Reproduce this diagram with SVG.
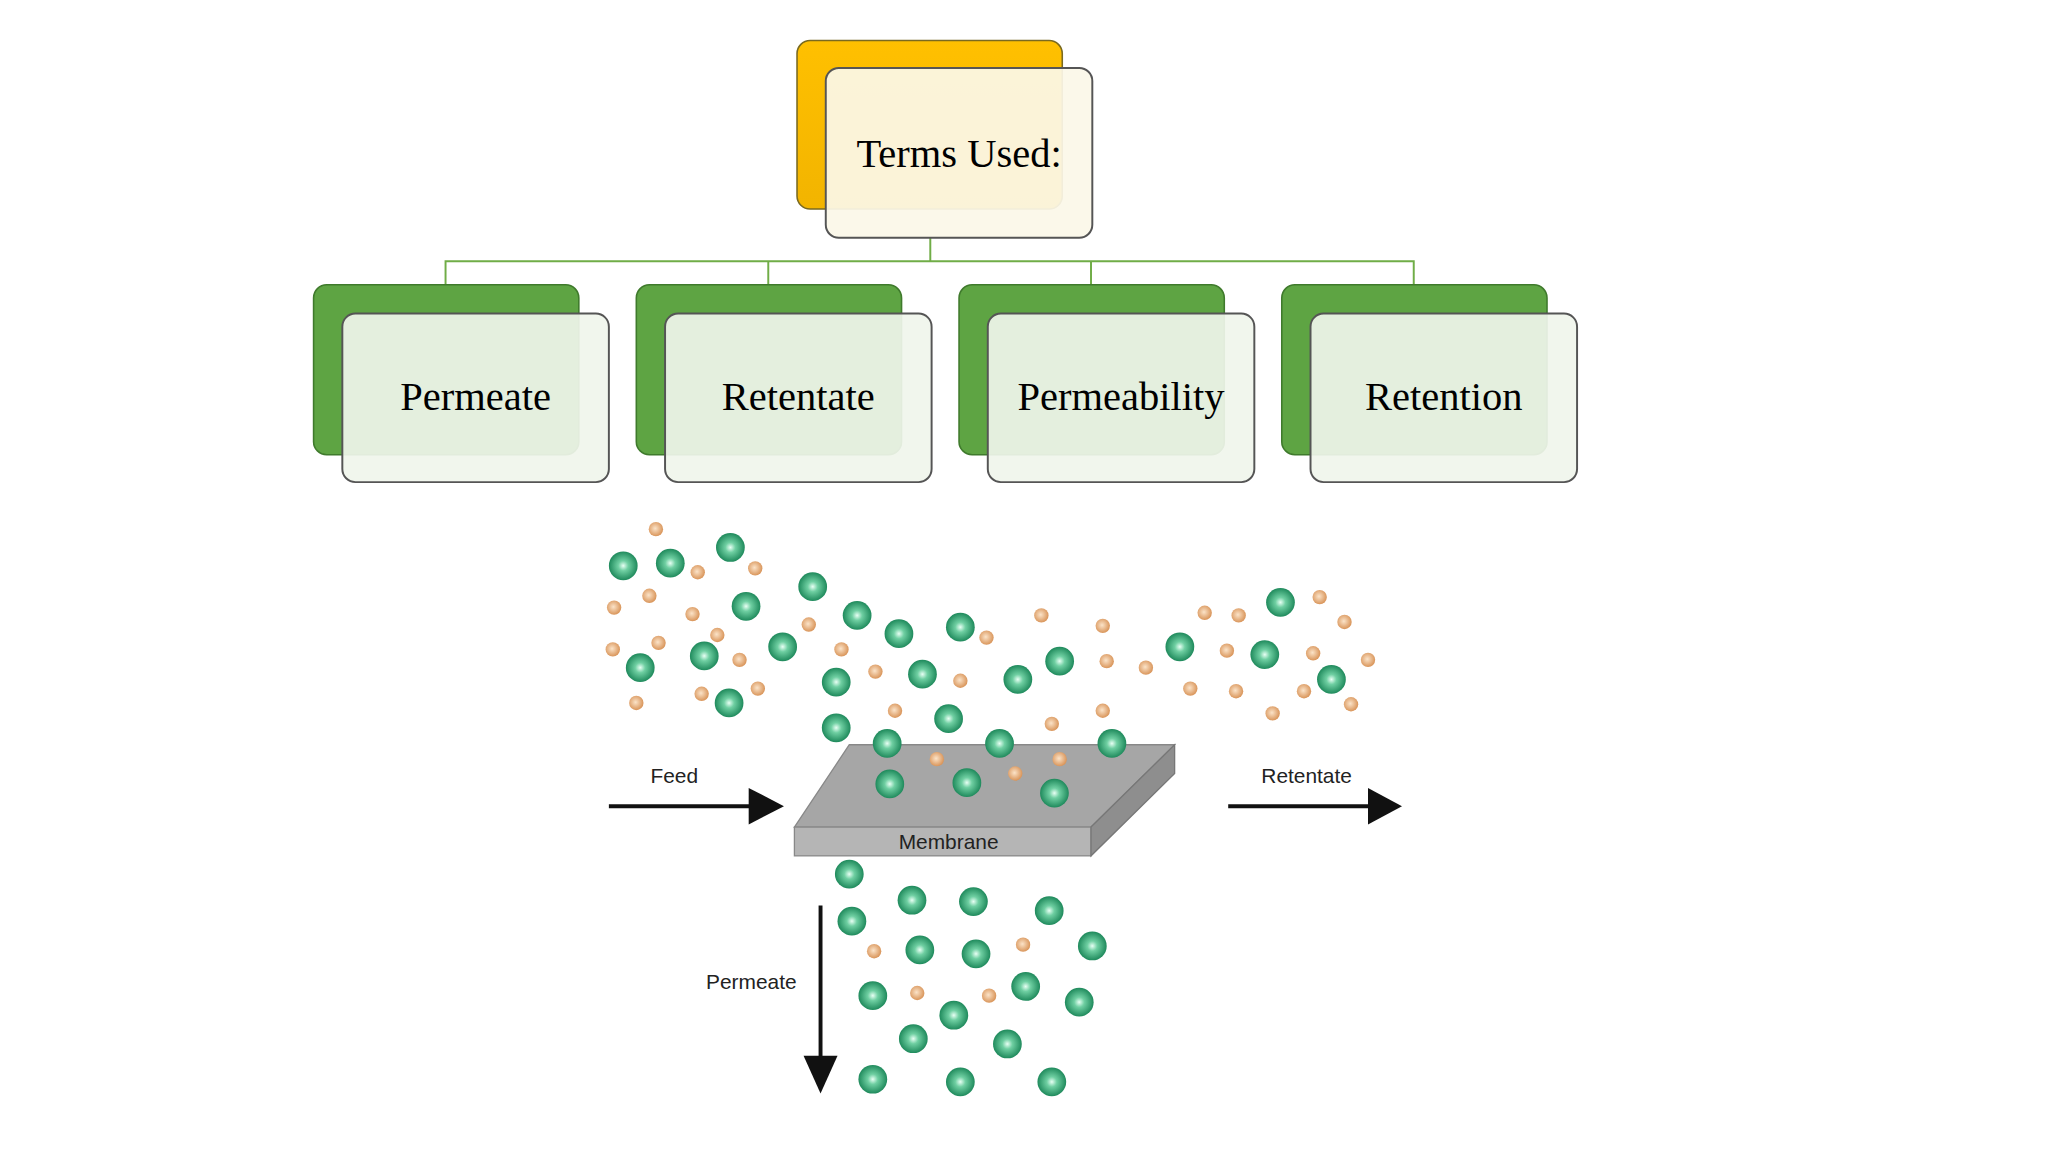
<svg xmlns="http://www.w3.org/2000/svg" width="2048" height="1152" viewBox="0 0 2048 1152">
<defs>
<style>
.t{font-family:"Liberation Serif","Times New Roman",serif;font-size:31px;fill:#000;text-anchor:middle}
.s{font-family:"Liberation Sans",Arial,sans-serif;font-size:16px;fill:#222;text-anchor:middle}
.front{fill:#f0f5ec;fill-opacity:0.92;stroke:#555;stroke-width:1.5}
.gb{fill:#5ea443;stroke:#3f7a2c;stroke-width:1.2}
.conn{fill:none;stroke:#70ad47;stroke-width:1.5}
.ar{stroke:#111;stroke-width:3;fill:none}
</style>
<radialGradient id="gg" cx="0.5" cy="0.5" r="0.5">
<stop offset="0" stop-color="#e8fff4"/><stop offset="0.35" stop-color="#6fcfa2"/><stop offset="1" stop-color="#1f8a5c"/>
</radialGradient>
<radialGradient id="tg" cx="0.45" cy="0.45" r="0.55">
<stop offset="0" stop-color="#fbe3c8"/><stop offset="1" stop-color="#d9955a"/>
</radialGradient>
<linearGradient id="yg" x1="0" y1="0" x2="0" y2="1"><stop offset="0" stop-color="#ffc000"/><stop offset="1" stop-color="#f2b400"/></linearGradient>
</defs>
<g transform="scale(1.3066)">
<g id="connectors">
<path class="conn" d="M712 182V200M341 218V200H1082V218M588 200V218M835 200V218"/>
</g>
<g id="terms">
<rect x="610" y="31" width="203" height="129" rx="10" fill="url(#yg)" stroke="#7a6a20" stroke-width="1.2"/>
<rect x="632" y="52" width="204" height="130" rx="10" fill="#fbf8e8" fill-opacity="0.93" stroke="#555" stroke-width="1.5"/>
<text class="t" x="734" y="128">Terms Used:</text>
</g>
<g id="permeate"><rect class="gb" x="240" y="218" width="203" height="130" rx="10"/><rect class="front" x="262" y="240" width="204" height="129" rx="10"/><text class="t" x="364" y="314">Permeate</text></g>
<g id="retentate"><rect class="gb" x="487" y="218" width="203" height="130" rx="10"/><rect class="front" x="509" y="240" width="204" height="129" rx="10"/><text class="t" x="611" y="314">Retentate</text></g>
<g id="permeability"><rect class="gb" x="734" y="218" width="203" height="130" rx="10"/><rect class="front" x="756" y="240" width="204" height="129" rx="10"/><text class="t" x="858" y="314">Permeability</text></g>
<g id="retention"><rect class="gb" x="981" y="218" width="203" height="130" rx="10"/><rect class="front" x="1003" y="240" width="204" height="129" rx="10"/><text class="t" x="1105" y="314">Retention</text></g>
<g id="membrane">
<polygon points="608,633 650,570 899,570 835,633" fill="#a6a6a6" stroke="#888" stroke-width="1"/>
<rect x="608" y="633" width="227" height="22" fill="#b5b5b5" stroke="#888" stroke-width="1"/>
<polygon points="835,633 899,570 899,592 835,655" fill="#8e8e8e" stroke="#777" stroke-width="1"/>
<text class="s" x="726" y="650">Membrane</text>
</g>
<g id="arrows">
<path class="ar" d="M466 617H576"/><polygon points="573,603 600,617 573,631" fill="#111"/>
<text class="s" x="516" y="599">Feed</text>
<path class="ar" d="M940 617H1050"/><polygon points="1047,603 1073,617 1047,631" fill="#111"/>
<text class="s" x="1000" y="599">Retentate</text>
<path class="ar" d="M628 693V812"/><polygon points="615,808 628,837 641,808" fill="#111"/>
<text class="s" x="575" y="757">Permeate</text>
</g>
<g id="particles" fill="url(#gg)">
<circle cx="477" cy="433" r="11"/><circle cx="513" cy="431" r="11"/><circle cx="559" cy="419" r="11"/><circle cx="571" cy="464" r="11"/><circle cx="622" cy="449" r="11"/><circle cx="656" cy="471" r="11"/><circle cx="688" cy="485" r="11"/><circle cx="735" cy="480" r="11"/><circle cx="599" cy="495" r="11"/><circle cx="539" cy="502" r="11"/><circle cx="490" cy="511" r="11"/><circle cx="558" cy="538" r="11"/><circle cx="640" cy="522" r="11"/><circle cx="706" cy="516" r="11"/><circle cx="779" cy="520" r="11"/><circle cx="811" cy="506" r="11"/><circle cx="903" cy="495" r="11"/><circle cx="968" cy="501" r="11"/><circle cx="980" cy="461" r="11"/><circle cx="1019" cy="520" r="11"/><circle cx="640" cy="557" r="11"/><circle cx="726" cy="550" r="11"/><circle cx="679" cy="569" r="11"/><circle cx="765" cy="569" r="11"/><circle cx="851" cy="569" r="11"/><circle cx="681" cy="600" r="11"/><circle cx="740" cy="599" r="11"/><circle cx="807" cy="607" r="11"/>
<circle cx="650" cy="669" r="11"/><circle cx="652" cy="705" r="11"/><circle cx="698" cy="689" r="11"/><circle cx="745" cy="690" r="11"/><circle cx="803" cy="697" r="11"/><circle cx="704" cy="727" r="11"/><circle cx="747" cy="730" r="11"/><circle cx="836" cy="724" r="11"/><circle cx="668" cy="762" r="11"/><circle cx="785" cy="755" r="11"/><circle cx="826" cy="767" r="11"/><circle cx="730" cy="777" r="11"/><circle cx="699" cy="795" r="11"/><circle cx="771" cy="799" r="11"/><circle cx="668" cy="826" r="11"/><circle cx="735" cy="828" r="11"/><circle cx="805" cy="828" r="11"/>
<g fill="url(#tg)">
<circle cx="502" cy="405" r="5.5"/><circle cx="534" cy="438" r="5.5"/><circle cx="578" cy="435" r="5.5"/><circle cx="470" cy="465" r="5.5"/><circle cx="497" cy="456" r="5.5"/><circle cx="530" cy="470" r="5.5"/><circle cx="549" cy="486" r="5.5"/><circle cx="504" cy="492" r="5.5"/><circle cx="469" cy="497" r="5.5"/><circle cx="566" cy="505" r="5.5"/><circle cx="580" cy="527" r="5.5"/><circle cx="537" cy="531" r="5.5"/><circle cx="487" cy="538" r="5.5"/><circle cx="619" cy="478" r="5.5"/><circle cx="644" cy="497" r="5.5"/><circle cx="670" cy="514" r="5.5"/><circle cx="735" cy="521" r="5.5"/><circle cx="685" cy="544" r="5.5"/><circle cx="755" cy="488" r="5.5"/><circle cx="797" cy="471" r="5.5"/><circle cx="844" cy="479" r="5.5"/><circle cx="847" cy="506" r="5.5"/><circle cx="877" cy="511" r="5.5"/><circle cx="805" cy="554" r="5.5"/><circle cx="844" cy="544" r="5.5"/><circle cx="922" cy="469" r="5.5"/><circle cx="948" cy="471" r="5.5"/><circle cx="1010" cy="457" r="5.5"/><circle cx="1029" cy="476" r="5.5"/><circle cx="939" cy="498" r="5.5"/><circle cx="1005" cy="500" r="5.5"/><circle cx="1047" cy="505" r="5.5"/><circle cx="911" cy="527" r="5.5"/><circle cx="946" cy="529" r="5.5"/><circle cx="998" cy="529" r="5.5"/><circle cx="974" cy="546" r="5.5"/><circle cx="1034" cy="539" r="5.5"/><circle cx="717" cy="581" r="5.5"/><circle cx="811" cy="581" r="5.5"/><circle cx="777" cy="592" r="5.5"/><circle cx="669" cy="728" r="5.5"/><circle cx="783" cy="723" r="5.5"/><circle cx="702" cy="760" r="5.5"/><circle cx="757" cy="762" r="5.5"/>
</g>
</g>
</g>
</svg>
